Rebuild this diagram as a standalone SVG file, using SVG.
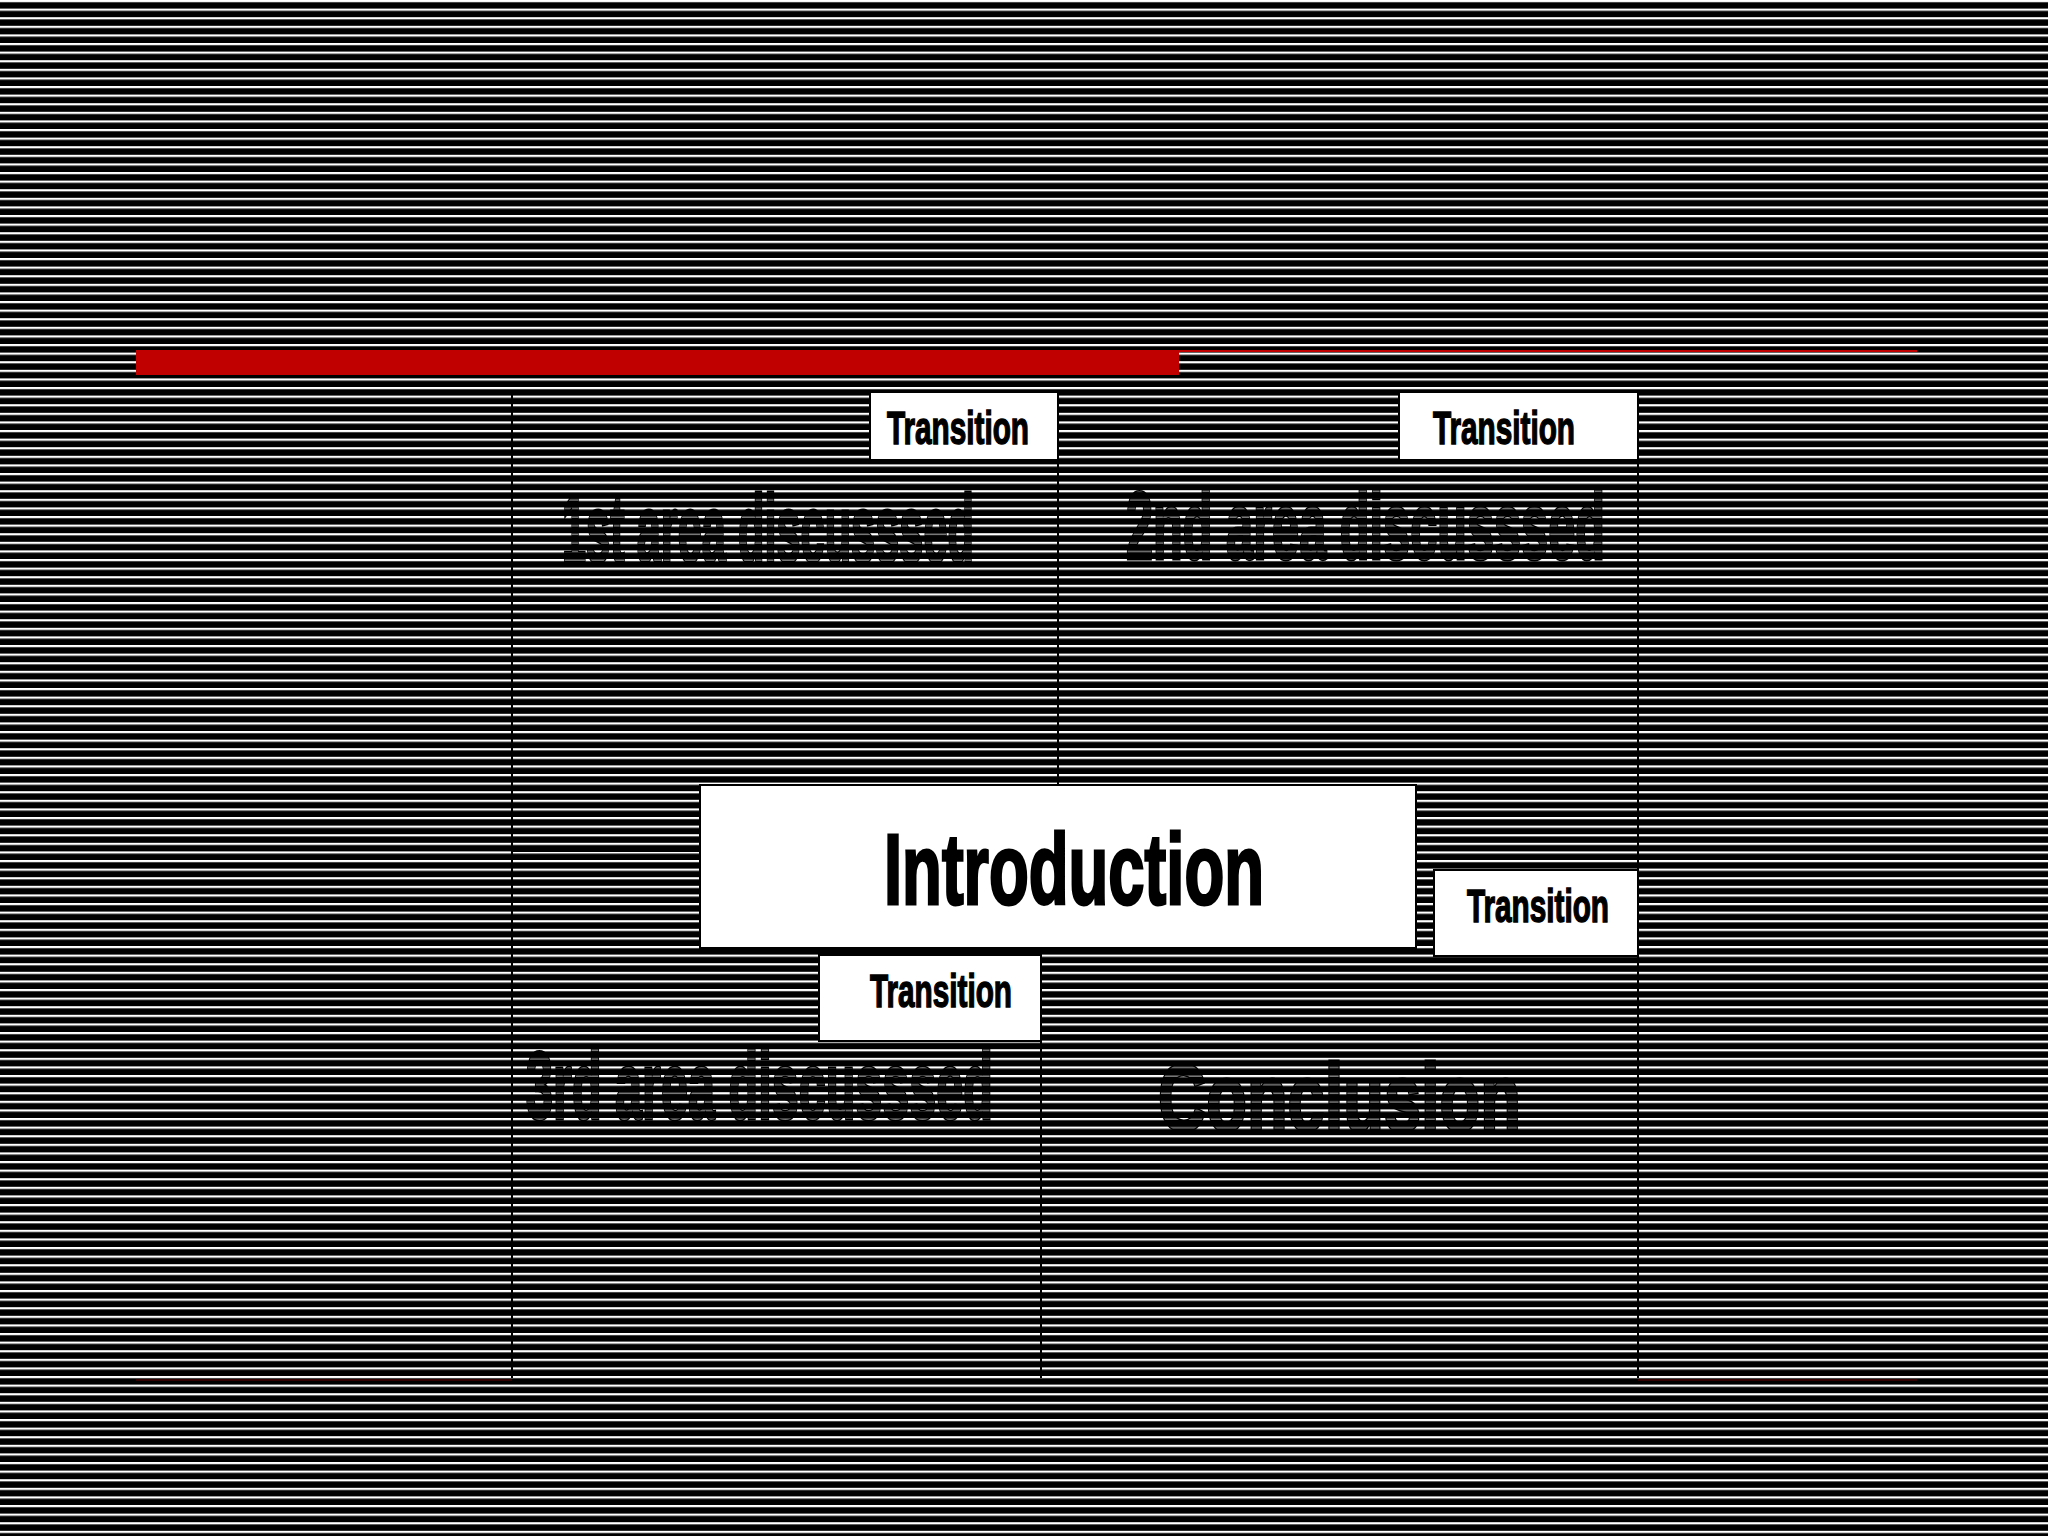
<svg xmlns="http://www.w3.org/2000/svg" width="2048" height="1536" viewBox="0 0 2048 1536">
<defs>
<pattern id="stripes" x="0" y="0" width="20" height="8.6" patternUnits="userSpaceOnUse">
<rect x="0" y="0" width="20" height="2.2" fill="#fff"/>
</pattern>
<pattern id="thin" x="0" y="0" width="20" height="8.6" patternUnits="userSpaceOnUse">
<rect x="0" y="0.6" width="20" height="1" fill="#bbb"/>
</pattern>
</defs>
<style>
.big{font-family:"Liberation Sans Narrow","Liberation Sans",Arial,sans-serif;font-weight:bold;fill:#000;stroke:#000;stroke-width:3}
.bigs{font-family:"Liberation Sans Narrow","Liberation Sans",Arial,sans-serif;font-weight:bold;fill:url(#thin)}
.tr{font-family:"Liberation Sans Narrow","Liberation Sans",Arial,sans-serif;font-weight:bold;font-size:46px;fill:#000;stroke:#000;stroke-width:1.5}
.box{fill:#fff;stroke:#000;stroke-width:2}
.ln{stroke:#000;stroke-width:2;fill:none}
</style>
<rect width="2048" height="1536" fill="#000"/>
<rect width="2048" height="1536" fill="url(#stripes)"/>
<g id="area1"><text class="big" x="562" y="562" font-size="96" textLength="412" lengthAdjust="spacingAndGlyphs">1st area discusssed</text><text class="bigs" x="562" y="562" font-size="96" textLength="412" lengthAdjust="spacingAndGlyphs">1st area discusssed</text></g>
<g id="area2"><text class="big" x="1126" y="559" font-size="96" textLength="479" lengthAdjust="spacingAndGlyphs">2nd area discusssed</text><text class="bigs" x="1126" y="559" font-size="96" textLength="479" lengthAdjust="spacingAndGlyphs">2nd area discusssed</text></g>
<g id="area3"><text class="big" x="526" y="1119" font-size="96" textLength="467" lengthAdjust="spacingAndGlyphs">3rd area discusssed</text><text class="bigs" x="526" y="1119" font-size="96" textLength="467" lengthAdjust="spacingAndGlyphs">3rd area discusssed</text></g>
<g id="conclusion"><text class="big" x="1158" y="1131" font-size="96" textLength="363" lengthAdjust="spacingAndGlyphs">Conclusion</text><text class="bigs" x="1158" y="1131" font-size="96" textLength="363" lengthAdjust="spacingAndGlyphs">Conclusion</text></g>
<g id="decor">
<rect x="136" y="350" width="1043" height="25" fill="#c00000"/>
<line x1="1179" y1="351" x2="1917" y2="351" stroke="#c00000" stroke-width="2"/>
<line x1="136" y1="1380" x2="512" y2="1380" stroke="#c00000" stroke-width="1" opacity="0.5"/>
<line x1="1638" y1="1380" x2="1917" y2="1380" stroke="#c00000" stroke-width="1" opacity="0.5"/>
</g>
<g id="connectors">
<line class="ln" x1="512" y1="392" x2="1638" y2="392"/>
<line class="ln" x1="512" y1="392" x2="512" y2="1378"/>
<line class="ln" x1="1058" y1="392" x2="1058" y2="784"/>
<line class="ln" x1="1638" y1="392" x2="1638" y2="1378"/>
<line class="ln" x1="1041" y1="1041" x2="1041" y2="1378"/>
<line class="ln" x1="512" y1="851" x2="700" y2="851"/>
</g>
<g id="intro">
<rect class="box" x="700" y="785" width="716" height="163"/>
<text class="big" x="884" y="904" font-size="100" textLength="380" lengthAdjust="spacingAndGlyphs">Introduction</text>
</g>
<g id="t1"><rect class="box" x="870" y="392" width="188" height="68"/><text class="tr" x="887" y="444" textLength="142" lengthAdjust="spacingAndGlyphs">Transition</text></g>
<g id="t2"><rect class="box" x="1399" y="392" width="239" height="68"/><text class="tr" x="1433" y="444" textLength="142" lengthAdjust="spacingAndGlyphs">Transition</text></g>
<g id="t3"><rect class="box" x="1434" y="870" width="204" height="86"/><text class="tr" x="1467" y="922" textLength="142" lengthAdjust="spacingAndGlyphs">Transition</text></g>
<g id="t4"><rect class="box" x="819" y="955" width="222" height="86"/><text class="tr" x="870" y="1007" textLength="142" lengthAdjust="spacingAndGlyphs">Transition</text></g>
</svg>
